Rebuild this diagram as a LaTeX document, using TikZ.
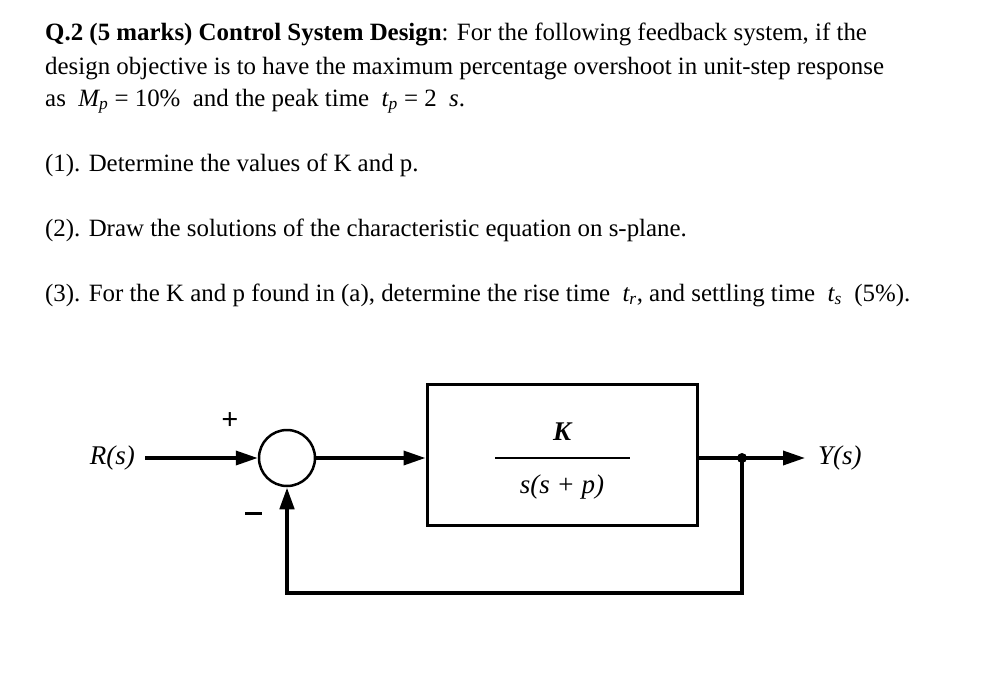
\documentclass[tikz,border=0pt]{standalone}
\usepackage{fontspec}
\setmainfont{Liberation Serif}
\usetikzlibrary{arrows.meta}
\begin{document}
\begin{tikzpicture}[x=1pt,y=-1pt,
  txt/.style={anchor=base west,inner sep=0pt,font=\fontsize{24.9}{29}\selectfont},
  wire/.style={line width=3.5pt},
  arr/.style={wire,-{Triangle[length=22pt,width=14pt]}},
  lbl/.style={inner sep=0pt,font=\fontsize{27}{31}\selectfont\itshape}]
\useasboundingbox (0,0) rectangle (994,697);
\node[txt] (l1) at (45,40) {\textbf{Q.2 (5 marks) Control System Design}: For the following feedback system, if the};
\node[txt] (l2) at (45,74) {design objective is to have the maximum percentage overshoot in unit-step response};
\node[txt] (l3) at (45,106) {as\ \ \textit{M\textsubscript{p}} = 10\%\ \ and the peak time\ \ \textit{t\textsubscript{p}} = 2\ \ \textit{s}.};
\node[txt] (l4) at (45,171) {(1). Determine the values of K and p.};
\node[txt] (l5) at (45,236) {(2). Draw the solutions of the characteristic equation on s-plane.};
\node[txt] (l6) at (45,301) {(3). For the K and p found in (a), determine the rise time\ \ \textit{t\textsubscript{r}}, and settling time\ \ \textit{t\textsubscript{s}}\ \ (5\%).};
\node[draw,line width=3pt,minimum width=270pt,minimum height=141pt,inner sep=0pt] (G) at (562,455) {};
\node[lbl] (num) at (562,432) {\textbf{K}};
\draw[line width=1.5pt] (495,458) -- (630,458);
\node[lbl] (den) at (562,487) {s(s + p)};
\node[draw,circle,line width=2.5pt,minimum size=56pt,inner sep=0pt] (S) at (287,458) {};
\node[lbl,anchor=east] (R) at (135,458) {R(s)};
\node[lbl,anchor=west] (Y) at (818,458) {Y(s)};
\node[inner sep=0pt,font=\fontsize{30}{34}\selectfont\bfseries] (plus) at (230,421) {+};
\draw[line width=3pt] (245,513) -- (262,513) coordinate (minus);
\coordinate (J) at (742,458);
\coordinate (Yend) at (805,458);
\coordinate (B1) at (742,593);
\coordinate (B2) at (287,593);
\draw[arr] (R.east)+(10,0) -- (S.west);
\draw[arr] (S.east) -- (S.east -| G.west);
\draw[wire] (J -| G.east) -- (J);
\draw[arr] (J) -- (Yend);
\fill (J) circle (5pt);
\draw[arr,line width=4.5pt] (J) -- (B1) -- (B2) -- (S.south);
\end{tikzpicture}
\end{document}
